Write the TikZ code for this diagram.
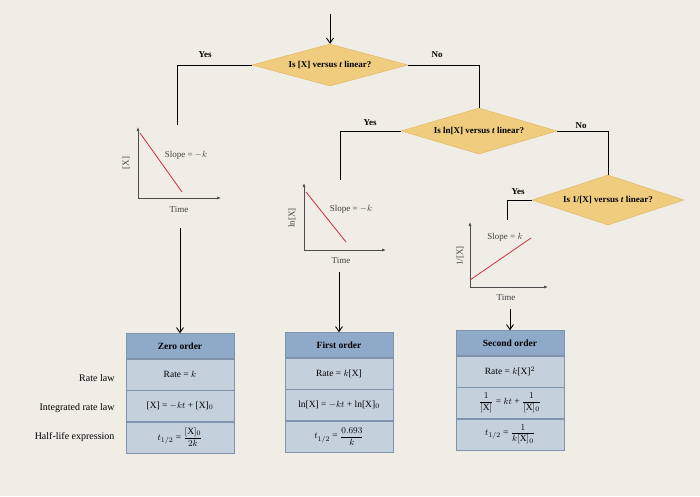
\documentclass[tikz,border=0pt]{standalone}
\usepackage{fontspec}
\setmainfont{Liberation Serif}
\usetikzlibrary{shapes.geometric,arrows.meta}
\definecolor{bg}{HTML}{EFEDE6}
\definecolor{dia}{HTML}{F0CD7E}
\definecolor{diab}{HTML}{E3B35E}
\definecolor{head}{HTML}{8FA9C9}
\definecolor{cell}{HTML}{C5D0DD}
\definecolor{cellb}{HTML}{7F93AC}
\definecolor{redl}{HTML}{C8313F}
\newcommand{\myfr}[2]{{\displaystyle\frac{#1}{#2}}}
\tikzset{
  q/.style={diamond,aspect=3.6,fill=dia,draw=diab,font=\bfseries\fontsize{9}{10}\selectfont,inner sep=0.5pt},
  flow/.style={line width=0.9pt},
  arr/.style={line width=0.9pt,-{Straight Barb[length=5pt,width=7pt]}},
  lab/.style={font=\bfseries\fontsize{9}{10}\selectfont},
  ax/.style={line width=0.6pt,draw=black!70,-{Latex[length=4pt,width=3pt]}},
  red/.style={draw=redl,line width=0.8pt},
  gl/.style={font=\fontsize{9}{10}\selectfont,text=black!75},
  hd/.style={fill=head,draw=cellb,minimum width=108pt,minimum height=25pt,font=\bfseries\fontsize{9.5}{11}\selectfont,inner sep=0},
  cl/.style={fill=cell,draw=cellb,minimum width=108pt,minimum height=31pt,font=\fontsize{9.5}{11}\selectfont,inner sep=0},
  rl/.style={anchor=east,font=\fontsize{10}{11}\selectfont}
}
\begin{document}
\begin{tikzpicture}[x=1pt,y=-1pt]
\fill[bg] (0,0) rectangle (700,496);
\useasboundingbox (0,0) rectangle (700,496);
% diamonds
\node[q,minimum width=156pt,minimum height=42pt] (d1) at (330,65) {Is [X] versus \textit{t} linear?};
\node[q,minimum width=156pt,minimum height=46pt] (d2) at (479,131) {Is ln[X] versus \textit{t} linear?};
\node[q,minimum width=152pt,minimum height=50pt] (d3) at (608,200) {Is 1/[X] versus \textit{t} linear?};
\coordinate (top) at (330,14);
\draw[arr] (top) -- (d1.north);
\coordinate (y1) at (177,125);
\coordinate (y2) at (340,180);
\coordinate (y3) at (507,220);
\draw[flow] (d1.west) -| (y1);
\draw[flow] (d1.east) -| (d2.north);
\draw[flow] (d2.west) -| (y2);
\draw[flow] (d2.east) -| (d3.north);
\draw[flow] (d3.west) -| (y3);
\node[lab] (ly1) at (205,55) {Yes};
\node[lab] (ln1) at (437,55) {No};
\node[lab] (ly2) at (370,123) {Yes};
\node[lab] (ln2) at (581,126) {No};
\node[lab] (ly3) at (518,192) {Yes};
% graph 1
\coordinate (o1) at (138,198);
\coordinate (t1) at (138,127);
\coordinate (e1) at (221,198);
\draw[ax] (o1) -- (t1);
\draw[ax] (o1) -- (e1);
\coordinate (r1a) at (140,133);
\coordinate (r1b) at (182,192);
\draw[red] (r1a) -- (r1b);
\node[gl] (s1) at (186,155) {Slope = $-k$};
\node[gl,rotate=90] (x1) at (126,163) {[X]};
\node[gl] (tm1) at (179,210) {Time};
% graph 2
\coordinate (o2) at (304,250);
\coordinate (t2) at (304,183);
\coordinate (e2) at (386,250);
\draw[ax] (o2) -- (t2);
\draw[ax] (o2) -- (e2);
\coordinate (r2a) at (306,192);
\coordinate (r2b) at (346,242);
\draw[red] (r2a) -- (r2b);
\node[gl] (s2) at (351,209) {Slope = $-k$};
\node[gl,rotate=90] (x2) at (292,218) {ln[X]};
\node[gl] (tm2) at (341,261) {Time};
% graph 3
\coordinate (o3) at (470,287);
\coordinate (t3) at (470,222);
\coordinate (e3) at (548,287);
\draw[ax] (o3) -- (t3);
\draw[ax] (o3) -- (e3);
\coordinate (r3a) at (470,280);
\coordinate (r3b) at (531,238);
\draw[red] (r3a) -- (r3b);
\node[gl] (s3) at (505,237) {Slope = $k$};
\node[gl,rotate=90] (x3) at (460,256) {1/[X]};
\node[gl] (tm3) at (506,298) {Time};
% tables
\node[hd] (h1) at (180,346) {Zero order};
\node[cl,anchor=north] (a1) at (h1.south) {Rate = $k$};
\node[cl,anchor=north] (b1) at (a1.south) {[X] = $-kt$ + [X]$_0$};
\node[cl,anchor=north] (c1) at (b1.south) {$t_{1/2}$ = $\myfr{[\mathrm{X}]_0}{2k}$};
\node[hd] (h2) at (339,345) {First order};
\node[cl,anchor=north] (a2) at (h2.south) {Rate = $k$[X]};
\node[cl,anchor=north] (b2) at (a2.south) {ln[X] = $-kt$ + ln[X]$_0$};
\node[cl,anchor=north] (c2) at (b2.south) {$t_{1/2}$ = $\myfr{0.693}{k}$};
\node[hd] (h3) at (510,343) {Second order};
\node[cl,anchor=north] (a3) at (h3.south) {Rate = $k$[X]$^2$};
\node[cl,anchor=north] (b3) at (a3.south) {$\myfr{1}{[\mathrm{X}]}$ = $kt$ + $\myfr{1}{[\mathrm{X}]_0}$};
\node[cl,anchor=north] (c3) at (b3.south) {$t_{1/2}$ = $\myfr{1}{k[\mathrm{X}]_0}$};
\node[rl] (rl1) at (118,378) {Rate law};
\node[rl] (rl2) at (118,408) {Integrated rate law};
\node[rl] (rl3) at (118,437) {Half-life expression};
% arrows to tables
\coordinate (g1) at (180,228);
\coordinate (g2) at (339,272);
\coordinate (g3) at (510,309);
\draw[arr] (g1) -- (g1 |- h1.north);
\draw[arr] (g2) -- (g2 |- h2.north);
\draw[arr] (g3) -- (g3 |- h3.north);
\end{tikzpicture}
\end{document}
